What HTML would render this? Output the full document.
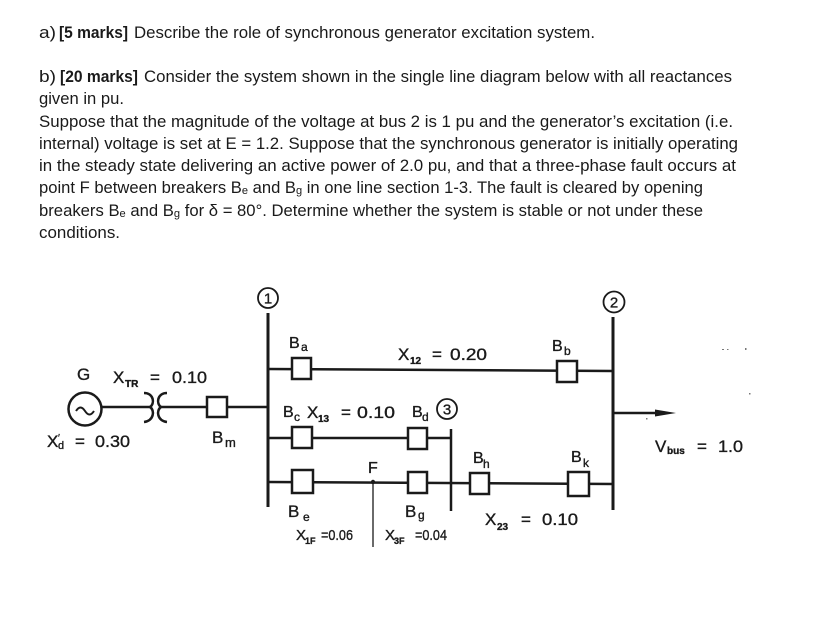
<!DOCTYPE html>
<html>
<head>
<meta charset="utf-8">
<style>
  html,body{margin:0;padding:0;background:#fff;}
  svg{display:block;}
  .t{font-family:"Liberation Sans",Arial,sans-serif;font-size:16.5px;fill:#1a1a1a;}
  .b{font-weight:bold;}
  .d{font-family:"Liberation Sans",Arial,sans-serif;fill:#1a1a1a;stroke:#1a1a1a;stroke-width:0.35;}
</style>
</head>
<body>
<svg width="833" height="620" viewBox="0 0 833 620" xmlns="http://www.w3.org/2000/svg">
  <rect width="833" height="620" fill="#fff"/>

  <!-- Paragraph text -->
  <text class="t" x="39" y="38" textLength="17" lengthAdjust="spacingAndGlyphs">a)</text>
  <text class="t b" x="59" y="38" textLength="69" lengthAdjust="spacingAndGlyphs">[5 marks]</text>
  <text class="t" x="134" y="38" textLength="461" lengthAdjust="spacingAndGlyphs">Describe the role of synchronous generator excitation system.</text>

  <text class="t" x="39" y="82" textLength="17" lengthAdjust="spacingAndGlyphs">b)</text>
  <text class="t b" x="60" y="82" textLength="78" lengthAdjust="spacingAndGlyphs">[20 marks]</text>
  <text class="t" x="144" y="82" textLength="588" lengthAdjust="spacingAndGlyphs">Consider the system shown in the single line diagram below with all reactances</text>

  <text class="t" x="39" y="104" textLength="85" lengthAdjust="spacingAndGlyphs">given in pu.</text>
  <text class="t" x="39" y="127" textLength="694" lengthAdjust="spacingAndGlyphs">Suppose that the magnitude of the voltage at bus 2 is 1 pu and the generator’s excitation (i.e.</text>
  <text class="t" x="39" y="149" textLength="699" lengthAdjust="spacingAndGlyphs">internal) voltage is set at E = 1.2. Suppose that the synchronous generator is initially operating</text>
  <text class="t" x="39" y="171" textLength="697" lengthAdjust="spacingAndGlyphs">in the steady state delivering an active power of 2.0 pu, and that a three-phase fault occurs at</text>
  <text class="t" x="39" y="193" textLength="664" lengthAdjust="spacingAndGlyphs">point F between breakers B<tspan font-size="11" dy="1">e</tspan><tspan dy="-1"> and B</tspan><tspan font-size="11" dy="1">g</tspan><tspan dy="-1"> in one line section 1-3. The fault is cleared by opening</tspan></text>
  <text class="t" x="39" y="216" textLength="664" lengthAdjust="spacingAndGlyphs">breakers B<tspan font-size="11" dy="1">e</tspan><tspan dy="-1"> and B</tspan><tspan font-size="11" dy="1">g</tspan><tspan dy="-1"> for δ = 80°. Determine whether the system is stable or not under these</tspan></text>
  <text class="t" x="39" y="238" textLength="81" lengthAdjust="spacingAndGlyphs">conditions.</text>

  <!-- Diagram lines -->
  <g stroke="#1a1a1a" fill="none" stroke-linecap="butt">
    <!-- generator -->
    <circle cx="85" cy="409" r="16.5" stroke-width="2.5"/>
    <path d="M76,411 q4.5,-7 9,0 t9,0" stroke-width="2"/>
    <line x1="101.5" y1="407" x2="150" y2="407" stroke-width="2.5"/>
    <!-- transformer coils -->
    <path d="M144,393 C154,393 155,404 150,407 C155,410 154,421 144,422" stroke-width="2.5"/>
    <path d="M167,393 C157,393 156,404 161,407 C156,410 157,421 167,422" stroke-width="2.5"/>
    <line x1="161" y1="407" x2="268" y2="407" stroke-width="2.5"/>

    <!-- bus 1 -->
    <line x1="268" y1="313" x2="268" y2="507" stroke-width="3"/>
    <circle cx="268" cy="298" r="10" stroke-width="1.8"/>
    <!-- bus 2 -->
    <line x1="613" y1="317" x2="613" y2="510" stroke-width="3"/>
    <circle cx="614" cy="302" r="10.5" stroke-width="1.8"/>
    <!-- bus 3 -->
    <line x1="451" y1="429" x2="451" y2="511" stroke-width="2.5"/>
    <circle cx="447" cy="409" r="10" stroke-width="1.8"/>

    <!-- line 1-2 -->
    <line x1="268" y1="369" x2="613" y2="371" stroke-width="2.5"/>
    <!-- line 1-3 upper -->
    <line x1="268" y1="438" x2="451" y2="438" stroke-width="2.5"/>
    <!-- line 1-3 lower and 3-2 -->
    <line x1="268" y1="482" x2="613" y2="484" stroke-width="2.5"/>

    <!-- fault line -->
    <line x1="373" y1="482" x2="373" y2="547" stroke-width="1.3"/>

    <!-- arrow -->
    <line x1="613" y1="413" x2="660" y2="413" stroke-width="2.5"/>
  </g>
  <polygon points="655,409.5 676,413 655,416.5" fill="#1a1a1a"/>
  <circle cx="373" cy="482" r="2.2" fill="#1a1a1a"/>

  <!-- breakers -->
  <g stroke="#1a1a1a" fill="#fff" stroke-width="2.5">
    <rect x="207" y="397" width="20" height="20"/>
    <rect x="292" y="358" width="19" height="21"/>
    <rect x="557" y="361" width="20" height="21"/>
    <rect x="292" y="427" width="20" height="21"/>
    <rect x="408" y="428" width="19" height="21"/>
    <rect x="292" y="470" width="21" height="23"/>
    <rect x="408" y="472" width="19" height="21"/>
    <rect x="470" y="473" width="19" height="21"/>
    <rect x="568" y="472" width="21" height="24"/>
  </g>

  <!-- bus numbers -->
  <text class="d" x="268" y="303.5" font-size="15" text-anchor="middle">1</text>
  <text class="d" x="614" y="307.5" font-size="15" text-anchor="middle">2</text>
  <text class="d" x="447" y="414.5" font-size="15" text-anchor="middle">3</text>

  <!-- diagram labels -->
  <g class="d">
    <text x="77" y="380" font-size="17">G</text>

    <text x="113" y="383" font-size="17">X</text>
    <text x="125" y="387" font-size="10" font-weight="bold">TR</text>
    <text x="150" y="383" font-size="17">=</text>
    <text x="172" y="383" font-size="17" textLength="35" lengthAdjust="spacingAndGlyphs">0.10</text>

    <text x="47" y="447" font-size="17">X</text>
    <text x="58" y="441" font-size="10">′</text>
    <text x="58" y="449" font-size="11">d</text>
    <text x="75" y="447" font-size="17">=</text>
    <text x="95" y="447" font-size="17" textLength="35" lengthAdjust="spacingAndGlyphs">0.30</text>

    <text x="212" y="443" font-size="17">B</text>
    <text x="225" y="447" font-size="13">m</text>

    <text x="289" y="348" font-size="16">B</text>
    <text x="301" y="351" font-size="12">a</text>

    <text x="398" y="360" font-size="17">X</text>
    <text x="410" y="364" font-size="10" font-weight="bold">12</text>
    <text x="432" y="360" font-size="17">=</text>
    <text x="450" y="360" font-size="17" textLength="37" lengthAdjust="spacingAndGlyphs">0.20</text>

    <text x="552" y="351" font-size="16">B</text>
    <text x="564" y="355" font-size="12">b</text>

    <text x="283" y="417" font-size="16">B</text>
    <text x="294" y="421" font-size="12">c</text>
    <text x="307" y="418" font-size="17">X</text>
    <text x="318" y="422" font-size="10" font-weight="bold">13</text>
    <text x="341" y="418" font-size="17">=</text>
    <text x="357" y="418" font-size="17" textLength="38" lengthAdjust="spacingAndGlyphs">0.10</text>
    <text x="412" y="417" font-size="16">B</text>
    <text x="422" y="421" font-size="12">d</text>

    <text x="368" y="473" font-size="16">F</text>

    <text x="473" y="463" font-size="16">B</text>
    <text x="483" y="468" font-size="12">h</text>
    <text x="571" y="462" font-size="16">B</text>
    <text x="583" y="467" font-size="12">k</text>

    <text x="288" y="517" font-size="17">B</text>
    <text x="303" y="521" font-size="12">e</text>
    <text x="405" y="517" font-size="17">B</text>
    <text x="418" y="519" font-size="12">g</text>

    <text x="296" y="540" font-size="15">X</text>
    <text x="305" y="544" font-size="9" font-weight="bold">1F</text>
    <text x="321" y="540" font-size="15" textLength="32" lengthAdjust="spacingAndGlyphs">=0.06</text>
    <text x="385" y="540" font-size="15">X</text>
    <text x="394" y="544" font-size="9" font-weight="bold">3F</text>
    <text x="415" y="540" font-size="15" textLength="32" lengthAdjust="spacingAndGlyphs">=0.04</text>

    <text x="485" y="525" font-size="17">X</text>
    <text x="497" y="530" font-size="10" font-weight="bold">23</text>
    <text x="521" y="525" font-size="17">=</text>
    <text x="542" y="525" font-size="17" textLength="36" lengthAdjust="spacingAndGlyphs">0.10</text>

    <text x="655" y="452" font-size="17">V</text>
    <text x="667" y="454" font-size="10" font-weight="bold">bus</text>
    <text x="697" y="452" font-size="17">=</text>
    <text x="718" y="452" font-size="17" textLength="25" lengthAdjust="spacingAndGlyphs">1.0</text>
  </g>

  <!-- specks -->
  <g fill="#777">
    <rect x="722" y="349" width="2" height="1"/>
    <rect x="727" y="349" width="1.5" height="1"/>
    <rect x="745" y="348" width="1.5" height="2"/>
    <rect x="749" y="393" width="1.5" height="1.5"/>
    <rect x="646" y="418" width="1.5" height="1.5"/>
  </g>
</svg>
</body>
</html>
